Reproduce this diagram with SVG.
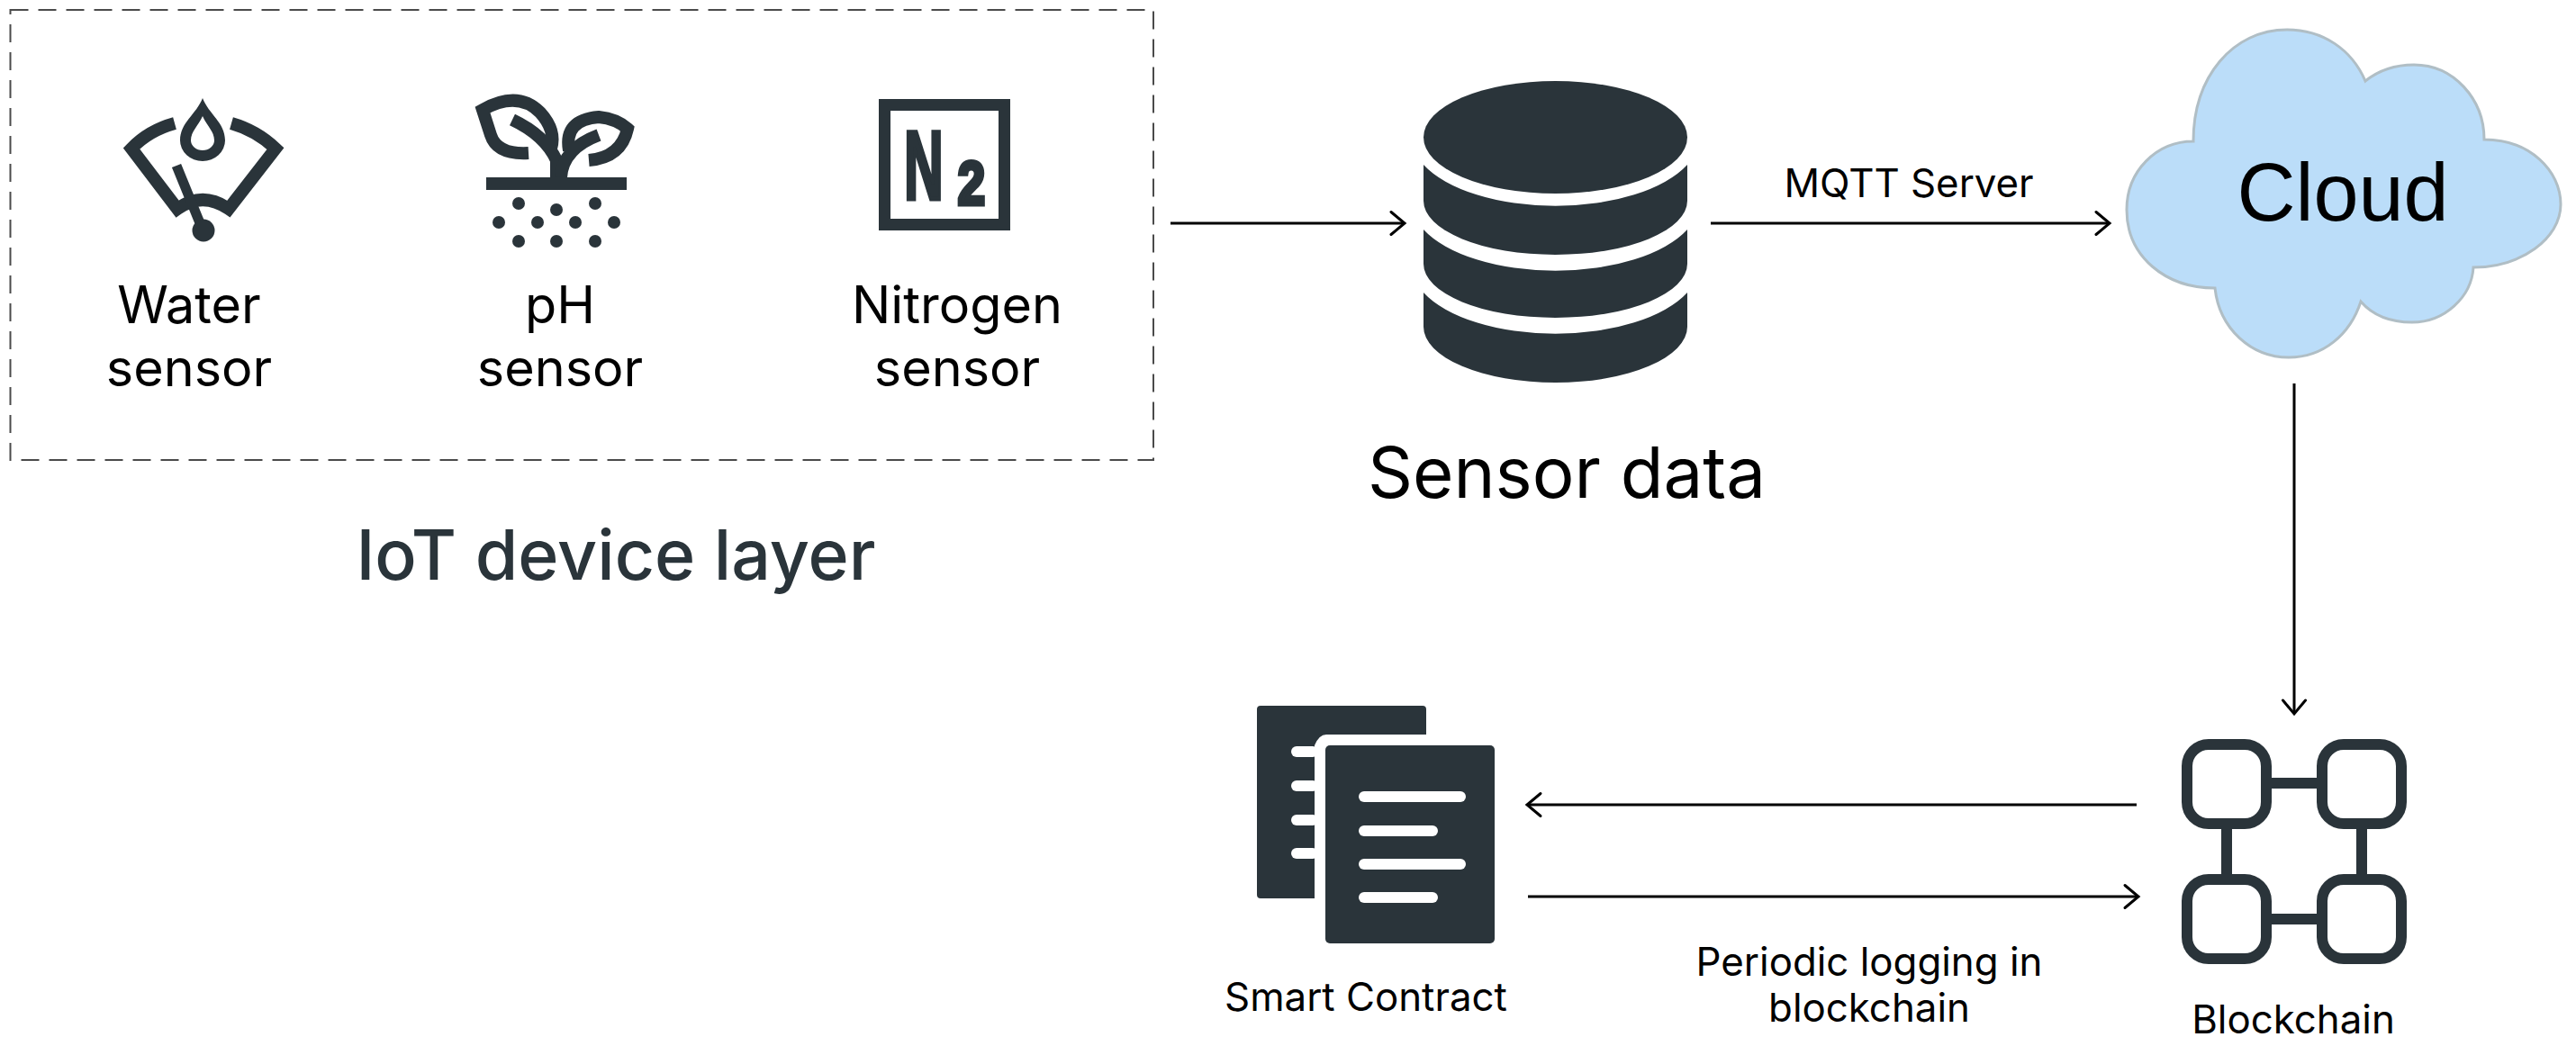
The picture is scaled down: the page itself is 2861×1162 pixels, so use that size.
<svg xmlns="http://www.w3.org/2000/svg" width="2861" height="1162" viewBox="0 0 2861 1162">
<style>
text{font-family:Inter,"Liberation Sans",sans-serif;fill:#000;text-anchor:middle}
.s{font-size:57.500px}.m{font-size:43.800px}
.i{fill:#2a343a}.o{fill:none;stroke:#2a343a;stroke-width:12}
.p{stroke-width:14}
.w{fill:#fff}
.c{fill:none;stroke:#000;stroke-width:3;marker-end:url(#a)}
.g{font-family:"Liberation Sans",sans-serif;fill:#2a343a;font-weight:700;stroke:#2a343a;stroke-width:5}
</style>
<defs><marker id="a" markerUnits="userSpaceOnUse" markerWidth="24" markerHeight="34" viewBox="-18 -17 24 34" refX="0" refY="0" orient="auto"><path d="M-15,-12.500 L0,0 L-15,12.500" fill="none" stroke="#000" stroke-width="3" stroke-linecap="round"/></marker></defs>
<rect width="2861" height="1162" fill="#fff"/>
<g id="iot-layer">
<rect x="11.500" y="11" width="1269.500" height="500" fill="none" stroke="#4a4a4a" stroke-width="2" stroke-dasharray="20 11"/>
<text x="684" y="644" font-size="77" font-weight="500" style="fill:#2a343a">IoT device layer</text>
</g>
<g id="water-sensor">
<path class="i" fill-rule="evenodd" d="M225,109C232,127 250,136 250,156A25,23 0 0 1 200,156C200,136 218,127 225,109ZM225,129C220,140 212,146 212,156A13,11 0 0 0 238,156C238,146 230,140 225,129Z"/>
<path class="o" style="stroke-width:14" d="M194,137Q165,145 146,165L197,232Q225,212 254,232L306,165Q285,145 257,137"/>
<path class="o" style="stroke-width:11" d="M196,184L225,255"/>
<circle class="i" cx="226" cy="256" r="12.500"/>
<text class="s" x="210" y="359">Water</text><text class="s" x="210" y="429">sensor</text>
</g>
<g id="ph-sensor">
<path class="o p" d="M587,170Q552,172 545,150L536,122Q575,100 600,125Q618,145 612,165"/>
<path class="o p" d="M569,133Q605,150 618,178L618,197"/>
<path class="o p" d="M632,167Q626,133 665,130Q685,132 697,143Q690,175 654,178"/>
<path class="o p" d="M665,150Q625,165 623,197"/>
<rect class="i" x="540" y="197" width="156" height="14"/>
<g class="i"><circle cx="576" cy="226" r="7"/><circle cx="618" cy="233" r="7"/><circle cx="661" cy="226" r="7"/><circle cx="554" cy="247" r="7"/><circle cx="597" cy="247" r="7"/><circle cx="639" cy="247" r="7"/><circle cx="682" cy="247" r="7"/><circle cx="576" cy="268" r="7"/><circle cx="618" cy="268" r="7"/><circle cx="661" cy="268" r="7"/></g>
<text class="s" x="622" y="359">pH</text><text class="s" x="622" y="429">sensor</text>
</g>
<g id="nitrogen-sensor">
<path class="i" fill-rule="evenodd" d="M976,110H1122V256H976ZM989,123V243H1109V123Z"/>
<text class="g" transform="translate(1026 221) scale(.56 1)" font-size="107">N</text>
<text class="g" transform="translate(1079 227) scale(.8 1)" font-size="68">2</text>
<text class="s" x="1063" y="359">Nitrogen</text><text class="s" x="1063" y="429">sensor</text>
</g>
<g id="sensor-data">
<ellipse class="i" cx="1727.500" cy="152.500" rx="146.500" ry="62.500"/>
<path class="i" d="M1581,183A160,76.500 0 0 0 1874,183V223A146.500,60 0 0 1 1581,223Z"/>
<path class="i" d="M1581,255A160,76.500 0 0 0 1874,255V293A146.500,60 0 0 1 1581,293Z"/>
<path class="i" d="M1581,325A160,76.500 0 0 0 1874,325V363A146.500,62 0 0 1 1581,363Z"/>
<text x="1740" y="553" font-size="78">Sensor data</text>
</g>
<g id="cloud">
<path fill="#bbddf9" stroke="#b0bec5" stroke-width="3" d="M2436,157C2436,85 2480,33 2540,33C2580,33 2612,55 2627,90C2642,78 2660,72 2681,72C2725,72 2759,110 2759,155C2810,155 2844,190 2844,227C2844,265 2800,297 2747,297C2745,330 2715,358 2679,358C2655,358 2635,350 2622,335C2610,372 2580,397 2542,397C2500,397 2465,365 2460,320C2405,320 2362,285 2362,233C2362,190 2395,157 2436,157Z"/>
<text x="2602" y="245" font-size="90" style="font-family:'Liberation Sans',sans-serif">Cloud</text>
</g>
<g id="smart-contract">
<path class="i" d="M1400,784H1580Q1584,784 1584,788V816H1473Q1465,816 1460,828V998H1400Q1396,998 1396,994V788Q1396,784 1400,784Z"/>
<g class="w"><rect x="1434" y="829" width="30" height="12" rx="6"/><rect x="1434" y="867" width="30" height="12" rx="6"/><rect x="1434" y="905" width="30" height="12" rx="6"/><rect x="1434" y="942" width="30" height="12" rx="6"/></g>
<rect class="i" x="1472" y="828" width="188" height="220" rx="5"/>
<g class="w"><rect x="1509" y="879" width="119" height="12" rx="6"/><rect x="1509" y="917" width="88" height="12" rx="6"/><rect x="1509" y="954" width="119" height="12" rx="6"/><rect x="1509" y="991" width="88" height="12" rx="6"/></g>
<text class="m" x="1517" y="1123">Smart Contract</text>
</g>
<g id="blockchain">
<rect class="o" x="2429" y="827" width="88" height="88" rx="24"/><rect class="o" x="2579" y="827" width="88" height="88" rx="24"/>
<rect class="o" x="2429" y="977" width="88" height="88" rx="24"/><rect class="o" x="2579" y="977" width="88" height="88" rx="24"/>
<path class="o" d="M2523,870H2573M2523,1021H2573M2473,920V971M2623,920V971"/>
<text class="m" x="2547" y="1148">Blockchain</text>
</g>
<g id="connectors">
<path class="c" d="M1300,248H1560"/>
<path class="c" d="M1900,248H2343"/>
<path class="c" d="M2548,426V793"/>
<path class="c" d="M2373,894H1696"/>
<path class="c" d="M1697,996H2375"/>
<text class="m" x="2120" y="219">MQTT Server</text>
<text class="m" x="2076" y="1084">Periodic logging in</text>
<text class="m" x="2076" y="1135">blockchain</text>
</g>
</svg>
